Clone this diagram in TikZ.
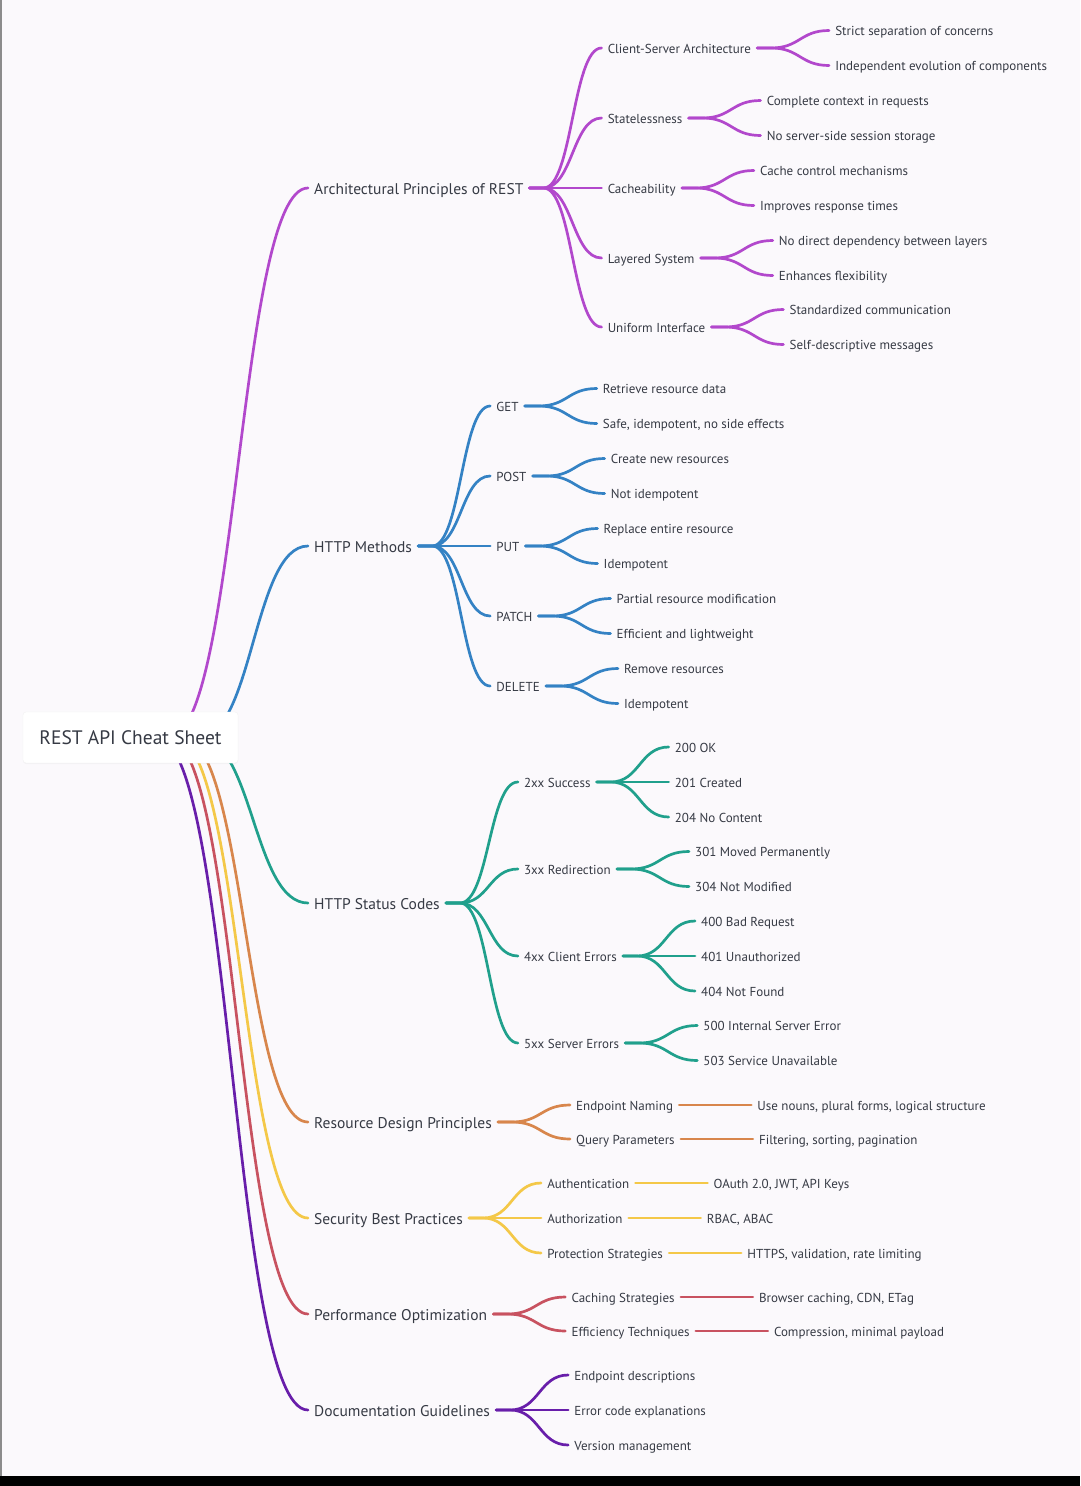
\documentclass[tikz,border=0pt]{standalone}
\usepackage{fontspec}
\setmainfont{PT Sans}
\usetikzlibrary{positioning,calc,backgrounds,shadows}

\definecolor{archc}{RGB}{178,72,204}
\definecolor{methc}{RGB}{52,130,196}
\definecolor{codec}{RGB}{32,160,140}
\definecolor{resc}{RGB}{216,134,76}
\definecolor{secc}{RGB}{244,200,72}
\definecolor{perfc}{RGB}{200,82,96}
\definecolor{docc}{RGB}{104,30,170}
\definecolor{txt}{RGB}{54,58,68}
\definecolor{bg}{RGB}{251,249,252}

\tikzset{
  lbl/.style={anchor=west, inner xsep=6pt, inner ysep=2pt, text=txt,
    text height=13pt, text depth=2.5pt, font=\fontsize{13}{14}\selectfont},
  main/.style={lbl, text height=16pt, text depth=3pt, font=\fontsize{15.5}{18}\selectfont},
  rootbox/.style={fill=white, draw=black!5, rounded corners=3pt, minimum width=215pt,
    minimum height=51pt, text=txt, font=\fontsize{19.5}{22}\selectfont,
    drop shadow={shadow xshift=0pt, shadow yshift=-1pt, opacity=.06}},
  edge/.style={line width=2.7pt, line cap=round},
  link/.style={to path={let \p1=(\tikztostart), \p2=(\tikztotarget) in
    -- ++(14pt,0) .. controls ({(\x1+14pt+\x2)/2},\y1) and ({(\x1+14pt+\x2)/2},\y2) .. (\tikztotarget)}},
  rootlink/.style={to path={let \p1=(\tikztostart), \p2=(\tikztotarget) in
    .. controls ({(\x1+\x2)/2},\y1) and ({(\x1+\x2)/2},\y2) .. (\tikztotarget)}},
}

\begin{document}
\begin{tikzpicture}[x=1pt, y=-1pt, node distance=72pt]
  \useasboundingbox (0,0) rectangle (1080,1486);
  \begin{scope}[on background layer]
    \fill[bg] (0,0) rectangle (1080,1476);
    \fill[black!45] (0,0) rectangle (1.5,1476);
    \fill[black] (0,1476) rectangle (1080,1486);
  \end{scope}

  % root and main branches
  \node[rootbox] (root) at (130.5,737.5) {REST API Cheat Sheet};
  \node[main] (arch) at (308,188) {Architectural Principles of REST};
  \node[main] (meth) at (308,546) {HTTP Methods};
  \node[main] (code) at (308,903) {HTTP Status Codes};
  \node[main] (res) at (308,1122) {Resource Design Principles};
  \node[main] (sec) at (308,1218) {Security Best Practices};
  \node[main] (perf) at (308,1314) {Performance Optimization};
  \node[main] (doc) at (308,1410) {Documentation Guidelines};

  % architectural principles
  \node[lbl, right=of arch, yshift=140pt] (cs) {Client-Server Architecture};
  \node[lbl, right=of arch, yshift=70pt] (stl) {Statelessness};
  \node[lbl, right=of arch] (cach) {Cacheability};
  \node[lbl, right=of arch, yshift=-70pt] (lay) {Layered System};
  \node[lbl, right=of arch, yshift=-139pt] (uni) {Uniform Interface};
  \node[lbl, right=of cs, yshift=17.5pt] (cs1) {Strict separation of concerns};
  \node[lbl, right=of cs, yshift=-17.5pt] (cs2) {Independent evolution of components};
  \node[lbl, right=of stl, yshift=17.5pt] (stl1) {Complete context in requests};
  \node[lbl, right=of stl, yshift=-17.5pt] (stl2) {No server-side session storage};
  \node[lbl, right=of cach, yshift=17.5pt] (cach1) {Cache control mechanisms};
  \node[lbl, right=of cach, yshift=-17.5pt] (cach2) {Improves response times};
  \node[lbl, right=of lay, yshift=17.5pt] (lay1) {No direct dependency between layers};
  \node[lbl, right=of lay, yshift=-17.5pt] (lay2) {Enhances flexibility};
  \node[lbl, right=of uni, yshift=17.5pt] (uni1) {Standardized communication};
  \node[lbl, right=of uni, yshift=-17.5pt] (uni2) {Self-descriptive messages};

  % http methods
  \node[lbl, right=of meth, yshift=140pt] (get) {GET};
  \node[lbl, right=of meth, yshift=70pt] (post) {POST};
  \node[lbl, right=of meth] (put) {PUT};
  \node[lbl, right=of meth, yshift=-70pt] (patch) {PATCH};
  \node[lbl, right=of meth, yshift=-140pt] (del) {DELETE};
  \node[lbl, right=of get, yshift=17.5pt] (get1) {Retrieve resource data};
  \node[lbl, right=of get, yshift=-17.5pt] (get2) {Safe, idempotent, no side effects};
  \node[lbl, right=of post, yshift=17.5pt] (post1) {Create new resources};
  \node[lbl, right=of post, yshift=-17.5pt] (post2) {Not idempotent};
  \node[lbl, right=of put, yshift=17.5pt] (put1) {Replace entire resource};
  \node[lbl, right=of put, yshift=-17.5pt] (put2) {Idempotent};
  \node[lbl, right=of patch, yshift=17.5pt] (patch1) {Partial resource modification};
  \node[lbl, right=of patch, yshift=-17.5pt] (patch2) {Efficient and lightweight};
  \node[lbl, right=of del, yshift=17.5pt] (del1) {Remove resources};
  \node[lbl, right=of del, yshift=-17.5pt] (del2) {Idempotent};

  % status codes
  \node[lbl, right=of code, yshift=121pt] (s2) {2xx Success};
  \node[lbl, right=of code, yshift=34pt] (s3) {3xx Redirection};
  \node[lbl, right=of code, yshift=-53pt] (s4) {4xx Client Errors};
  \node[lbl, right=of code, yshift=-140pt] (s5) {5xx Server Errors};
  \node[lbl, right=of s2, yshift=35pt] (s200) {200 OK};
  \node[lbl, right=of s2] (s201) {201 Created};
  \node[lbl, right=of s2, yshift=-35pt] (s204) {204 No Content};
  \node[lbl, right=of s3, yshift=17.5pt] (s301) {301 Moved Permanently};
  \node[lbl, right=of s3, yshift=-17.5pt] (s304) {304 Not Modified};
  \node[lbl, right=of s4, yshift=35pt] (s400) {400 Bad Request};
  \node[lbl, right=of s4] (s401) {401 Unauthorized};
  \node[lbl, right=of s4, yshift=-35pt] (s404) {404 Not Found};
  \node[lbl, right=of s5, yshift=17.5pt] (s500) {500 Internal Server Error};
  \node[lbl, right=of s5, yshift=-17.5pt] (s503) {503 Service Unavailable};

  % resource design
  \node[lbl, right=of res, yshift=17pt] (en) {Endpoint Naming};
  \node[lbl, right=of res, yshift=-17pt] (qp) {Query Parameters};
  \node[lbl, right=of en] (en1) {Use nouns, plural forms, logical structure};
  \node[lbl, right=of qp] (qp1) {Filtering, sorting, pagination};

  % security
  \node[lbl, right=of sec, yshift=35pt] (authn) {Authentication};
  \node[lbl, right=of sec] (authz) {Authorization};
  \node[lbl, right=of sec, yshift=-35pt] (prot) {Protection Strategies};
  \node[lbl, right=of authn] (authn1) {OAuth 2.0, JWT, API Keys};
  \node[lbl, right=of authz] (authz1) {RBAC, ABAC};
  \node[lbl, right=of prot] (prot1) {HTTPS, validation, rate limiting};

  % performance
  \node[lbl, right=of perf, yshift=17pt] (cstr) {Caching Strategies};
  \node[lbl, right=of perf, yshift=-17pt] (eff) {Efficiency Techniques};
  \node[lbl, right=of cstr] (cstr1) {Browser caching, CDN, ETag};
  \node[lbl, right=of eff] (eff1) {Compression, minimal payload};

  % documentation
  \node[lbl, right=of doc, yshift=35pt] (doc1) {Endpoint descriptions};
  \node[lbl, right=of doc] (doc2) {Error code explanations};
  \node[lbl, right=of doc, yshift=-35pt] (doc3) {Version management};

  % connectors
  \begin{scope}[on background layer]
    \foreach \b/\s/\c in {arch/38pt/archc, meth/68pt/methc, code/68pt/codec, res/52pt/resc,
        sec/44pt/secc, perf/37pt/perfc, doc/26pt/docc}
      \draw[edge, draw=\c] ([xshift=\s]root.center) to[rootlink] (\b.west);
    \foreach \a/\b in {arch/cs, arch/stl, arch/cach, arch/lay, arch/uni, cs/cs1, cs/cs2,
        stl/stl1, stl/stl2, cach/cach1, cach/cach2, lay/lay1, lay/lay2, uni/uni1, uni/uni2}
      \draw[edge, draw=archc] (\a.east) to[link] (\b.west);
    \foreach \a/\b in {meth/get, meth/post, meth/put, meth/patch, meth/del, get/get1, get/get2,
        post/post1, post/post2, put/put1, put/put2, patch/patch1, patch/patch2, del/del1, del/del2}
      \draw[edge, draw=methc] (\a.east) to[link] (\b.west);
    \foreach \a/\b in {code/s2, code/s3, code/s4, code/s5, s2/s200, s2/s201, s2/s204,
        s3/s301, s3/s304, s4/s400, s4/s401, s4/s404, s5/s500, s5/s503}
      \draw[edge, draw=codec] (\a.east) to[link] (\b.west);
    \foreach \a/\b in {res/en, res/qp, en/en1, qp/qp1}
      \draw[edge, draw=resc] (\a.east) to[link] (\b.west);
    \foreach \a/\b in {sec/authn, sec/authz, sec/prot, authn/authn1, authz/authz1, prot/prot1}
      \draw[edge, draw=secc] (\a.east) to[link] (\b.west);
    \foreach \a/\b in {perf/cstr, perf/eff, cstr/cstr1, eff/eff1}
      \draw[edge, draw=perfc] (\a.east) to[link] (\b.west);
    \foreach \a/\b in {doc/doc1, doc/doc2, doc/doc3}
      \draw[edge, draw=docc] (\a.east) to[link] (\b.west);
  \end{scope}
\end{tikzpicture}
\end{document}
